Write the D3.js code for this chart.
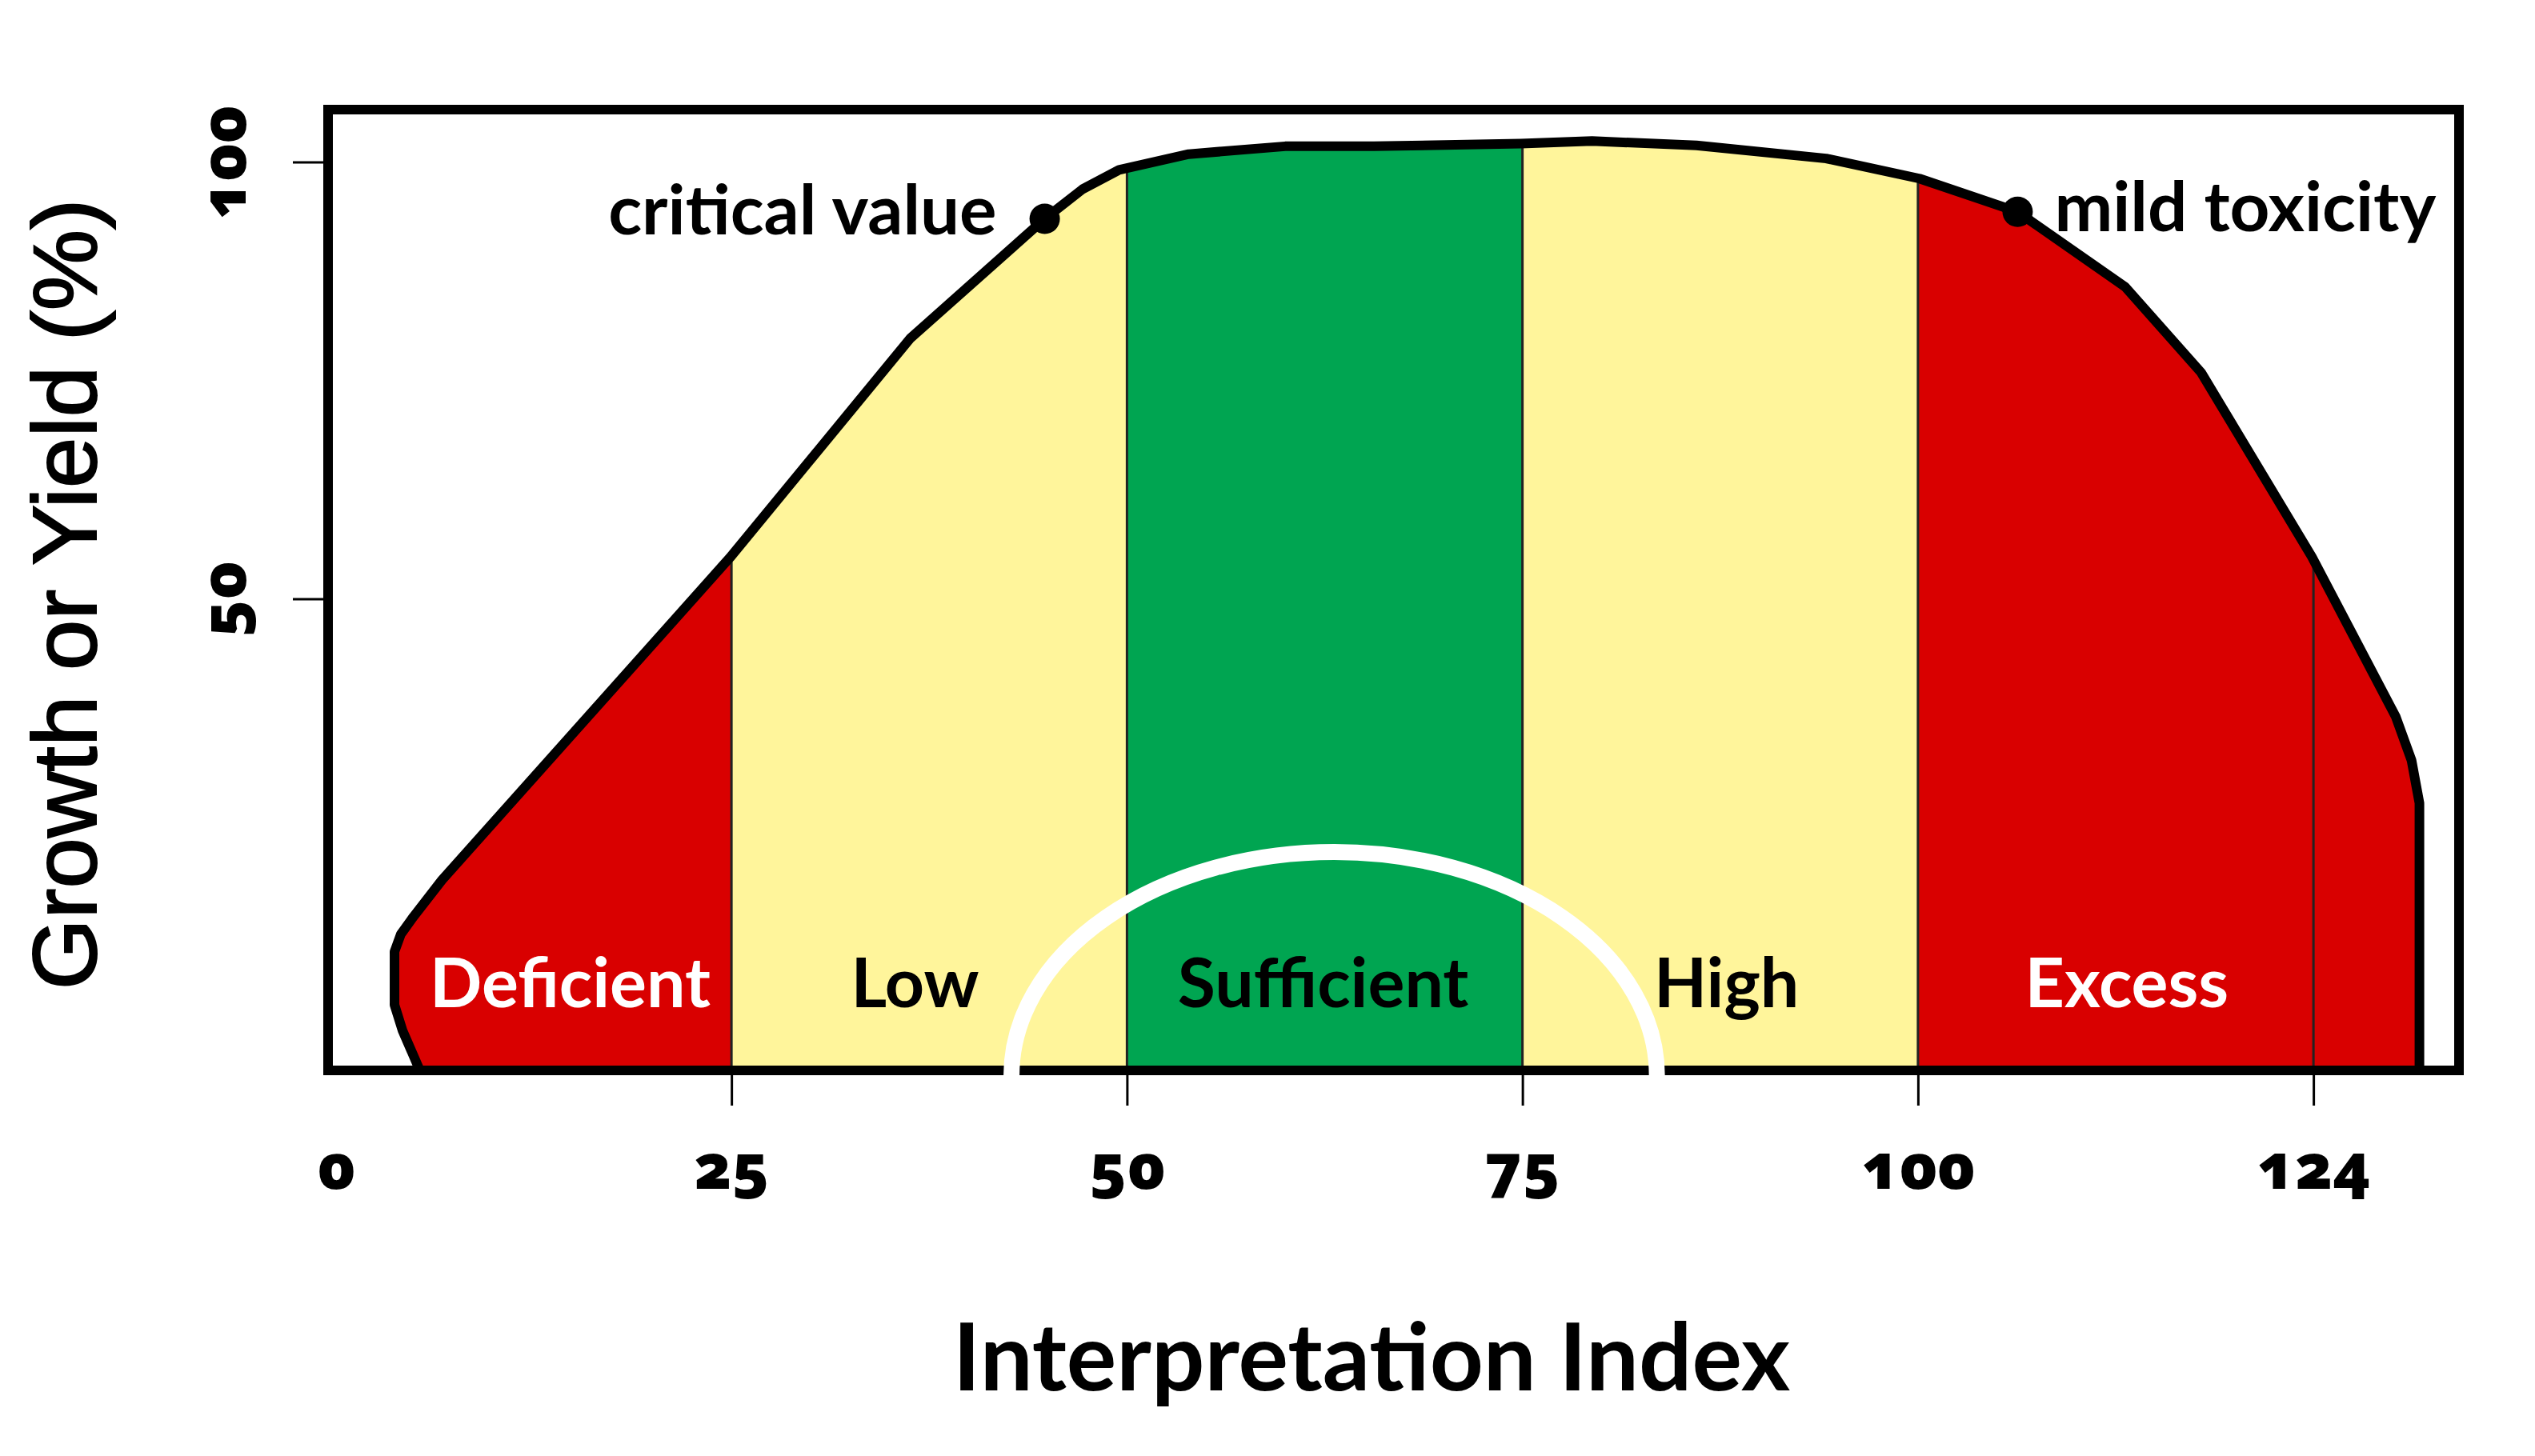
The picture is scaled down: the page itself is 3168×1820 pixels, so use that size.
<!DOCTYPE html>
<html>
<head>
<meta charset="utf-8">
<script src="https://cdn.jsdelivr.net/npm/d3@7"></script>
<style>
  html, body { margin: 0; padding: 0; background: #fff; }
  svg { display: block; }
</style>
</head>
<body>
<svg id="chart"></svg>
<script>
// response curve outline: interpretation index vs growth or yield (%)
const curveX = [5.3, 4.2, 3.7, 3.7, 4.1, 4.9, 6.7, 24.9, 36.3, 44.8, 47.2, 49.5, 53.9, 60.0, 65.6, 74.9, 79.4, 86.0, 94.2, 100.1, 106.3, 113.1, 117.9, 124.9, 130.2, 131.2, 131.7, 131.7]
const curveY = [-4, 0.6, 3.5, 9.6, 11.6, 13.6, 17.8, 54.7, 79.8, 93.5, 96.9, 99.1, 100.9, 101.8, 101.8, 102.1, 102.4, 101.9, 100.4, 98.1, 94.3, 85.7, 75.9, 54.8, 36.5, 31.5, 26.6, -4]

// interpretation bands
const bandNames = ['Deficient', 'Low', 'Sufficient', 'High', 'Excess']
const bandStarts = [0, 25, 50, 75, 100]
const bandEnds = [25, 50, 75, 100, 140]
const bandColors = ['#d90000', '#fff59b', '#00a551', '#fff59b', '#d90000']
const bandTextColors = ['#fff', '#000', '#000', '#000', '#fff']
const bandLabelX = [14.8, 36.6, 62.4, 87.9, 113.2]
const dividers = [25, 50, 75, 100, 125]

// axis ticks
const xTickValues = [0, 25, 50, 75, 100, 125]
const xTickLabels = ['0', '25', '50', '75', '100', '124']
const yTickValues = [50, 100]
const yTickLabels = ['50', '100']

// marked points on the curve
const markerNames = ['critical value', 'mild toxicity']
const markerX = [44.8, 106.3]
const markerY = [93.5, 94.3]

// white arc over the sufficient band
const arcCenter = 63.1
const arcHalfWidth = 20.4
const arcHeight = 25.6
const arcBase = -4.6

const width = 3168
const height = 1820
const labelFont = 'Lato, "Open Sans", sans-serif'
const tickFont = '"Open Sans", "DejaVu Sans", sans-serif'

const svg = d3.select('#chart')
  .attr('width', width)
  .attr('height', height)

svg.append('rect')
  .attr('width', width)
  .attr('height', height)
  .attr('fill', '#fff')

let x = d3.scaleLinear().domain([-0.5, 134.2]).range([410, 3073])
let y = d3.scaleLinear().domain([-4, 106]).range([1338, 137])

let points = curveX.map((d, i) => [d, curveY[i]])

let line = d3.line()
  .x(d => x(d[0]))
  .y(d => y(d[1]))

// clip everything coloured to the area under the curve
svg.append('clipPath')
  .attr('id', 'curveClip')
  .append('path')
  .attr('d', line(points) + 'Z')

let plot = svg.append('g').attr('clip-path', 'url(#curveClip)')

plot.selectAll('rect.band')
  .data(bandNames)
  .join('rect')
  .attr('class', 'band')
  .attr('x', (d, i) => x(bandStarts[i]))
  .attr('width', (d, i) => x(bandEnds[i]) - x(bandStarts[i]))
  .attr('y', y(110))
  .attr('height', y(-4) - y(110))
  .attr('fill', (d, i) => bandColors[i])

plot.selectAll('line.divider')
  .data(dividers)
  .join('line')
  .attr('class', 'divider')
  .attr('x1', d => x(d))
  .attr('x2', d => x(d))
  .attr('y1', y(110))
  .attr('y2', y(-4))
  .attr('stroke', '#222')
  .attr('stroke-width', 3)

// outline of the curve
svg.append('path')
  .datum(points)
  .attr('d', line)
  .attr('fill', 'none')
  .attr('stroke', '#000')
  .attr('stroke-width', 12)
  .attr('stroke-linejoin', 'round')

// band labels
svg.selectAll('text.band')
  .data(bandNames)
  .join('text')
  .attr('class', 'band')
  .attr('x', (d, i) => x(bandLabelX[i]))
  .attr('y', y(3.2))
  .attr('text-anchor', 'middle')
  .attr('fill', (d, i) => bandTextColors[i])
  .style('font-family', labelFont)
  .style('font-weight', 700)
  .style('font-size', '86px')
  .text(d => d)

// frame
svg.append('rect')
  .attr('x', x(-0.5))
  .attr('y', y(106))
  .attr('width', x(134.2) - x(-0.5))
  .attr('height', y(-4) - y(106))
  .attr('fill', 'none')
  .attr('stroke', '#000')
  .attr('stroke-width', 12)

// marker points
svg.selectAll('circle.marker')
  .data(markerNames)
  .join('circle')
  .attr('class', 'marker')
  .attr('cx', (d, i) => x(markerX[i]))
  .attr('cy', (d, i) => y(markerY[i]))
  .attr('r', 19)
  .attr('fill', '#000')

svg.selectAll('text.marker')
  .data(markerNames)
  .join('text')
  .attr('class', 'marker')
  .attr('x', (d, i) => x(markerX[i]) + (i === 0 ? -60 : 46))
  .attr('y', (d, i) => y(markerY[i]) + (i === 0 ? 20 : 24))
  .attr('text-anchor', (d, i) => (i === 0 ? 'end' : 'start'))
  .style('font-family', labelFont)
  .style('font-weight', 700)
  .style('font-size', '87px')
  .text(d => d)

// white arc
let ax0 = x(arcCenter - arcHalfWidth)
let ax1 = x(arcCenter + arcHalfWidth)
let rx = (ax1 - ax0) / 2
let ry = y(arcBase) - y(arcBase + arcHeight)
svg.append('path')
  .attr('d', `M${ax0},${y(arcBase)} A${rx},${ry} 0 0 1 ${ax1},${y(arcBase)}`)
  .attr('fill', 'none')
  .attr('stroke', '#fff')
  .attr('stroke-width', 20)

////////////////////////////////////////////////////////////////////////////////
// Axes
////////////////////////////////////////////////////////////////////////////////
let xAxis = svg.append('g')
  .attr('transform', 'translate(0,' + y(-4) + ')')
  .call(
    d3.axisBottom(x)
      .tickValues(xTickValues)
      .tickFormat((d, i) => xTickLabels[i])
      .tickSizeInner(44)
      .tickSizeOuter(0)
  )
xAxis.select('.domain').remove()
xAxis.selectAll('.tick line')
  .attr('stroke', '#000')
  .attr('stroke-width', 3)
  .filter(d => d === 0)
  .remove()
xAxis.selectAll('.tick text')
  .attr('y', 148)
  .attr('dy', null)
  .attr('fill', '#000')
  .style('font-family', tickFont)
  .style('font-weight', 800)
  .style('font-size', '78px')
  .style('font-variant-numeric', 'oldstyle-nums')

let yAxis = svg.append('g')
  .attr('transform', 'translate(' + x(-0.5) + ',0)')
  .call(
    d3.axisLeft(y)
      .tickValues(yTickValues)
      .tickFormat((d, i) => yTickLabels[i])
      .tickSizeInner(44)
      .tickSizeOuter(0)
  )
yAxis.select('.domain').remove()
yAxis.selectAll('.tick line')
  .attr('stroke', '#000')
  .attr('stroke-width', 3)
yAxis.selectAll('.tick text')
  .attr('x', null)
  .attr('dy', '0.35em')
  .attr('text-anchor', 'middle')
  .attr('transform', 'translate(-130,0) rotate(-90)')
  .attr('fill', '#000')
  .style('font-family', tickFont)
  .style('font-weight', 800)
  .style('font-size', '78px')
  .style('font-variant-numeric', 'oldstyle-nums')

// axis titles
svg.append('text')
  .attr('transform', 'translate(80,743) rotate(-90)')
  .attr('dy', '0.35em')
  .attr('text-anchor', 'middle')
  .style('font-family', '"Liberation Sans", Arial, sans-serif')
  .style('font-size', '114px')
  .style('stroke', '#000')
  .style('stroke-width', 2)
  .text('Growth or Yield (%)')

svg.append('text')
  .attr('x', 1714)
  .attr('y', 1738)
  .attr('text-anchor', 'middle')
  .style('font-family', labelFont)
  .style('font-weight', 700)
  .style('font-size', '117px')
  .text('Interpretation Index')
</script>
</body>
</html>
